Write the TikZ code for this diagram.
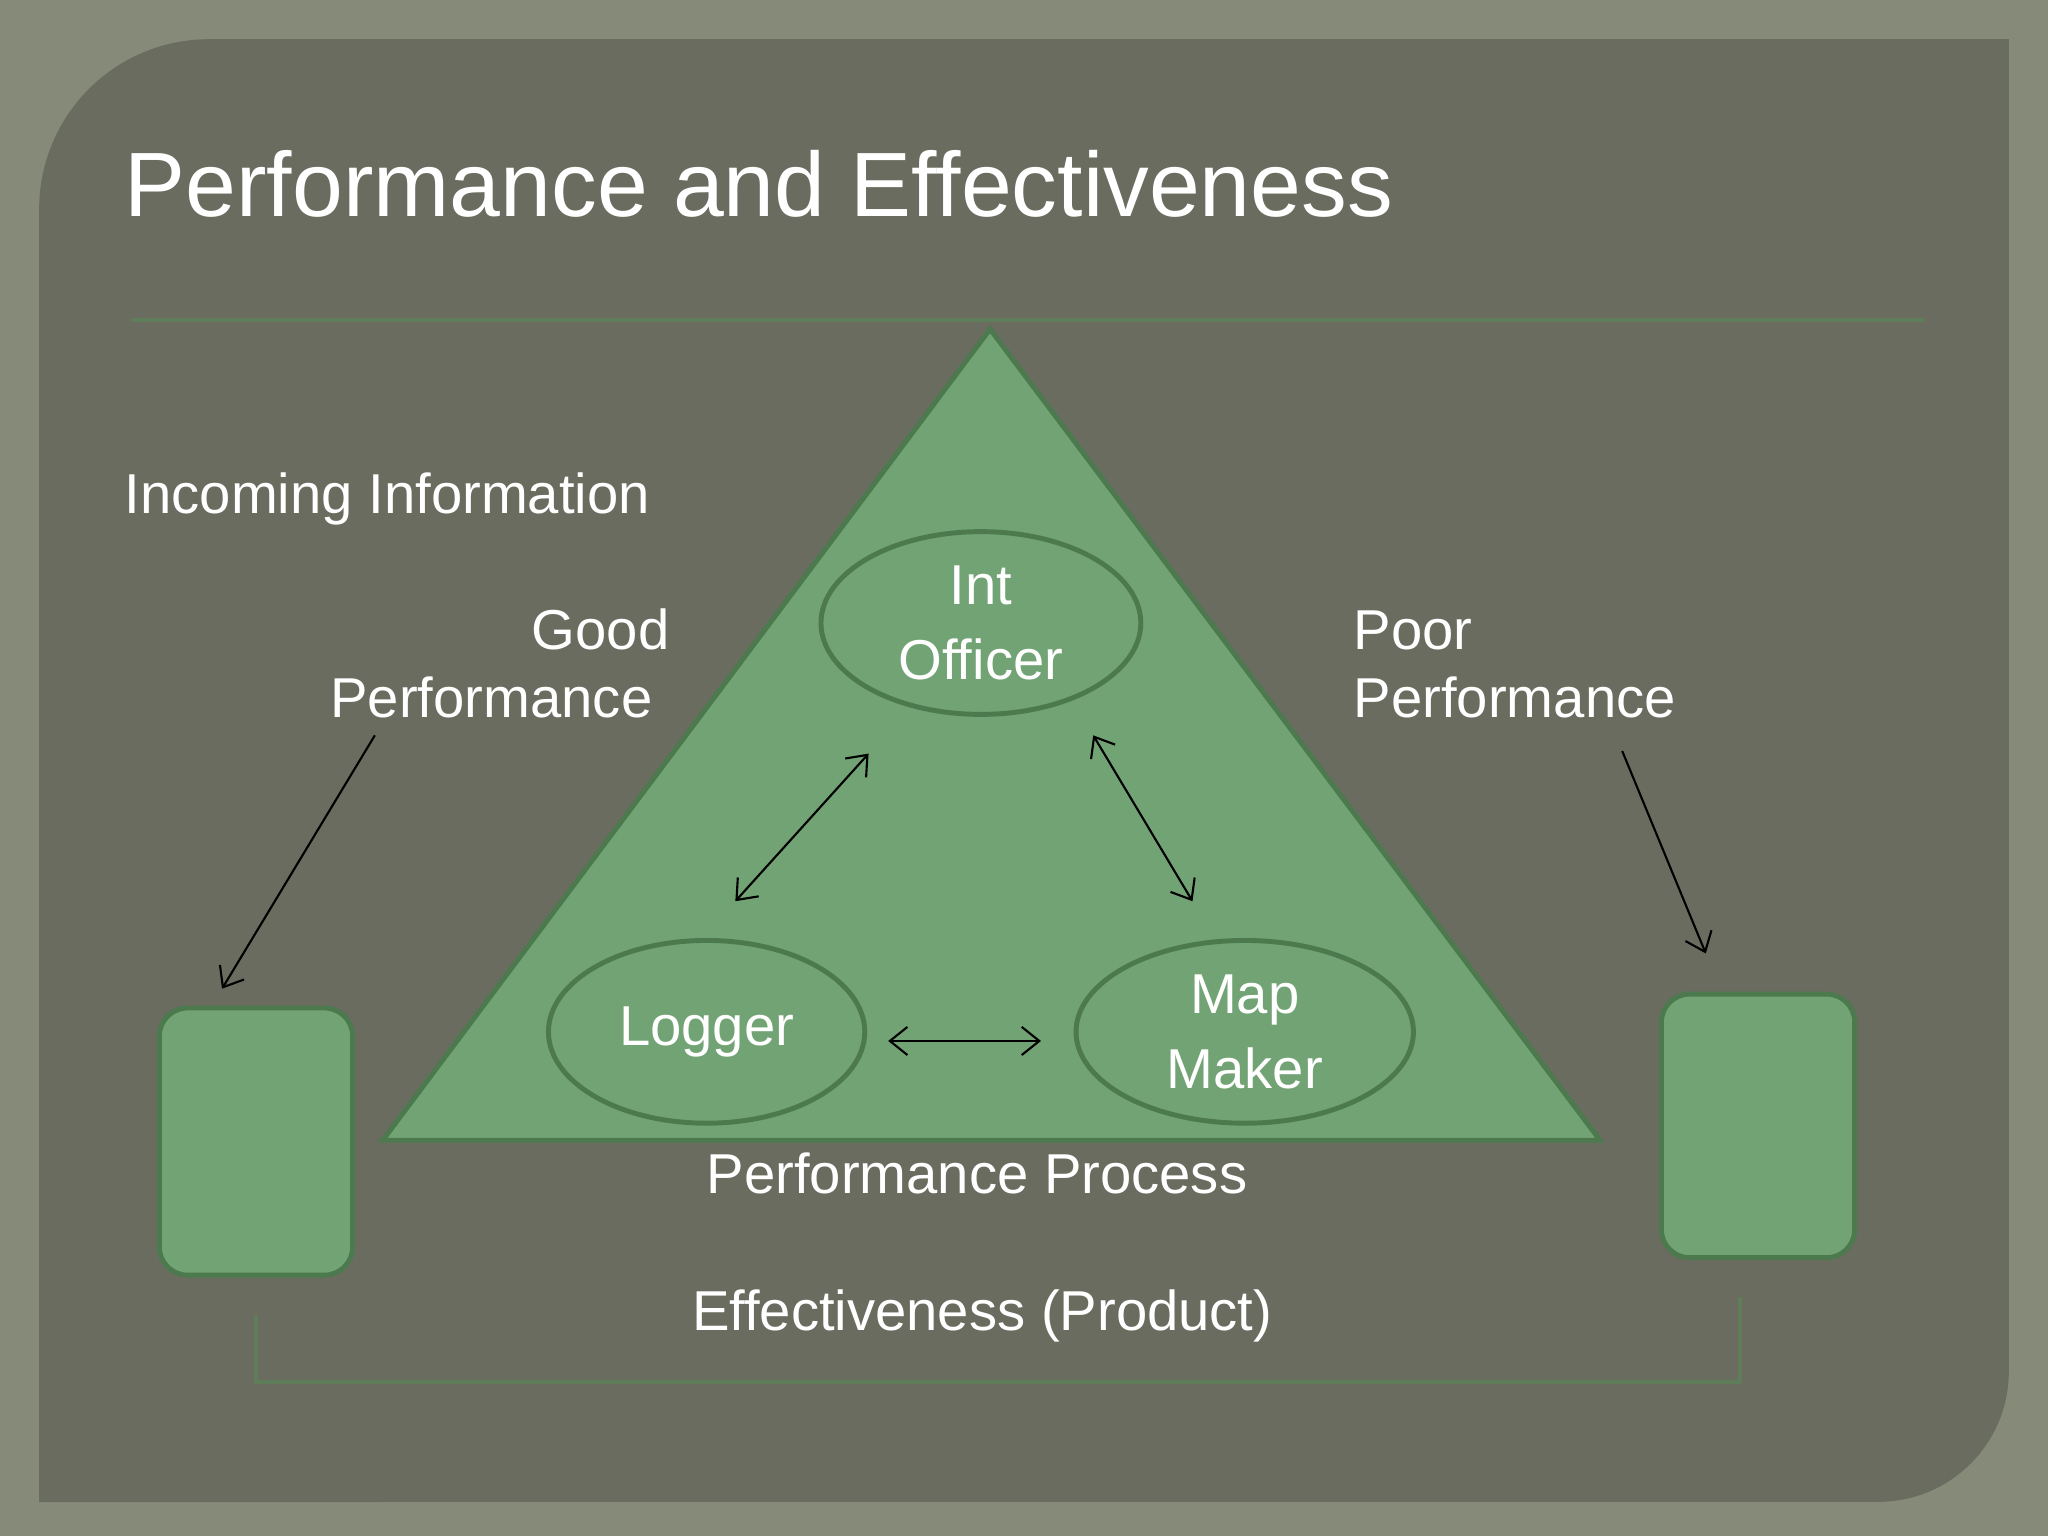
\documentclass[tikz,border=0pt]{standalone}
\usepackage{fontspec}
\setmainfont{Liberation Sans}
\usetikzlibrary{shapes.geometric,arrows.meta}
\definecolor{outer}{HTML}{868A78}
\definecolor{panel}{HTML}{6A6C5F}
\definecolor{gfill}{HTML}{72A374}
\definecolor{gline}{HTML}{4C7A4E}
\definecolor{rule}{HTML}{5E7D58}
\begin{document}
\begin{tikzpicture}[x=0.013061cm,y=-0.013061cm,
  lbl/.style={text=white,font=\fontsize{16}{19.5}\selectfont,inner sep=0pt},
  oval/.style={ellipse,draw=gline,line width=1.4pt,fill=gfill,minimum height=52pt,align=center,lbl},
  box/.style={draw=gline,line width=1.4pt,fill=gfill,rounded corners=8pt,minimum width=55pt},
  dbl/.style={{Straight Barb[length=5pt,width=8pt]}-{Straight Barb[length=5pt,width=8pt]},line width=0.6pt},
  sgl/.style={-{Straight Barb[length=5pt,width=8pt]},line width=0.6pt}]
\fill[outer] (0,0) rectangle (1568,1176);
\useasboundingbox (0,0) rectangle (1568,1176);
\fill[panel] (30,1150) -- (30,160) arc[start angle=180,end angle=90,radius=48.3pt] -- (1538,30) -- (1538,1050) arc[start angle=0,end angle=-90,radius=37.1pt] -- cycle;
\node[anchor=base west,text=white,font=\fontsize{26}{32}\selectfont,inner sep=0pt] (title) at (95,166) {Performance and Effectiveness};
\draw[rule,line width=1pt] (100,245) -- (1473,245);
\draw[gline,line width=1.4pt,fill=gfill] (758,252) -- (1225,873) -- (293,873) -- cycle;
\node[oval,minimum width=91pt] (int) at (751,477) {Int\\[2pt]Officer};
\node[oval,minimum width=90pt] (log) at (541,790) {Logger};
\node[oval,minimum width=96pt] (map) at (953,790) {Map\\[2pt]Maker};
\coordinate (a1) at (665,577); \coordinate (a2) at (563,690);
\coordinate (b1) at (837,563); \coordinate (b2) at (913,690);
\coordinate (c1) at (680,797); \coordinate (c2) at (797,797);
\draw[dbl] (a1) -- (a2);
\draw[dbl] (b1) -- (b2);
\draw[dbl] (c1) -- (c2);
\node[lbl,anchor=base west] (inc) at (95,393) {Incoming Information};
\node[lbl,anchor=base east] (good) at (513,497) {Good};
\node[lbl,anchor=base east] (goodp) at (500,549) {Performance};
\node[lbl,anchor=base west] (poor) at (1036,497) {Poor};
\node[lbl,anchor=base west] (poorp) at (1036,549) {Performance};
\node[box,minimum height=76pt] (lbox) at (196,874) {};
\node[box,minimum height=75pt] (rbox) at (1346,862) {};
\coordinate (g1) at (287,563); \coordinate (g2) at (170,757);
\coordinate (p1) at (1242,575); \coordinate (p2) at (1306,730);
\draw[sgl] (g1) -- (g2);
\draw[sgl] (p1) -- (p2);
\node[lbl,anchor=base] (proc) at (748,914) {Performance Process};
\node[lbl,anchor=base] (eff) at (752,1019) {Effectiveness (Product)};
\coordinate (k1) at (196,1007); \coordinate (k2) at (1332,993);
\draw[rule,line width=1pt] (k1) -- (196,1058) -- (1332,1058) -- (k2);
\end{tikzpicture}
\end{document}
